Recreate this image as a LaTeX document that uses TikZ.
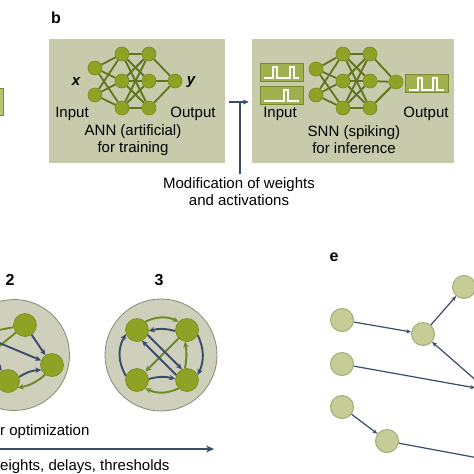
\documentclass[tikz,border=0pt]{standalone}
\usepackage{fontspec}
\setmainfont{Liberation Sans}
\usetikzlibrary{arrows.meta}
\pgfdeclarelayer{bg}\pgfdeclarelayer{mid}\pgfsetlayers{bg,mid,main}
\definecolor{boxfill}{RGB}{200,202,172}
\definecolor{nodegreen}{RGB}{142,162,38}
\definecolor{nodeborder}{RGB}{118,138,28}
\definecolor{edgegreen}{RGB}{95,118,30}
\definecolor{circfill}{RGB}{206,208,188}
\definecolor{circborder}{RGB}{135,138,115}
\definecolor{arrblue}{RGB}{58,76,108}
\definecolor{arrgreen}{RGB}{108,138,35}
\definecolor{enodefill}{RGB}{198,204,150}
\definecolor{enodeborder}{RGB}{165,172,118}
\definecolor{spikefill}{RGB}{160,176,78}
\definecolor{spikeborder}{RGB}{120,138,45}
\definecolor{leftbox}{RGB}{185,196,110}
\begin{document}
\begin{tikzpicture}[x=1pt,y=-1pt,
  font=\fontsize{15}{17}\selectfont,
  panel/.style={rectangle,fill=boxfill,draw=none,minimum width=#1,minimum height=124,inner sep=0},
  annnode/.style={circle,fill=nodegreen,draw=nodeborder,line width=0.6,minimum size=14,inner sep=0},
  annedge/.style={draw=edgegreen,line width=1.8},
  spikebox/.style={rectangle,fill=spikefill,draw=spikeborder,line width=0.8,minimum width=43,minimum height=18,inner sep=0},
  pulse/.style={draw=white,line width=1.1},
  txt/.style={inner sep=0,font=\fontsize{15}{17}\selectfont},
  lbl/.style={inner sep=0,font=\fontsize{16}{18}\selectfont\bfseries},
  barrow/.style={draw=arrblue,line width=1.5,-{Stealth[length=6,width=5]}},
  bigcirc/.style={circle,fill=circfill,draw=circborder,line width=0.8,minimum size=#1,inner sep=0},
  dnode/.style={circle,fill=nodegreen,draw=nodeborder,line width=0.6,minimum size=23,inner sep=0},
  da/.style={line width=1.9,-{Stealth[length=6,width=5.5]}},
  blu/.style={draw=arrblue},
  grn/.style={draw=arrgreen},
  enode/.style={circle,fill=enodefill,draw=enodeborder,line width=1,minimum size=23,inner sep=0},
  earrow/.style={draw=arrblue,line width=1.2,-{Stealth[length=5,width=4]}}]
\useasboundingbox (0,0) rectangle (474,474);
\begin{pgfonlayer}{bg}
\fill[white] (0,0) rectangle (474,474);
\end{pgfonlayer}

% ---------- left fragment ----------
\fill[leftbox,draw=spikeborder,line width=0.6] (-6,88) rectangle (3,115);

% ---------- panel b ----------
\node[lbl] (lb) at (56,18) {b};
\begin{pgfonlayer}{bg}
\node[panel=176] (annbox) at (137,101) {};
\node[panel=202] (snnbox) at (353,101) {};
\end{pgfonlayer}

% ANN
\node[annnode] (I1) at (95,68) {};
\node[annnode] (I2) at (95,95) {};
\node[annnode] (Ha) at (122,54) {};
\node[annnode] (Hb) at (122,81) {};
\node[annnode] (Hc) at (122,108) {};
\node[annnode] (Ka) at (149,54) {};
\node[annnode] (Kb) at (149,81) {};
\node[annnode] (Kc) at (149,108) {};
\node[annnode] (O) at (175,81) {};
\begin{pgfonlayer}{mid}
\foreach \a in {I1,I2} \foreach \b in {Ha,Hb,Hc} \draw[annedge] (\a) -- (\b);
\foreach \a in {Ha,Hb,Hc} \foreach \b in {Ka,Kb,Kc} \draw[annedge] (\a) -- (\b);
\foreach \a in {Ka,Kb,Kc} \draw[annedge] (\a) -- (O);
\end{pgfonlayer}
\node[txt,font=\fontsize{15}{17}\selectfont\bfseries\itshape] (xl) at (76,82) {x};
\node[txt,font=\fontsize{15}{17}\selectfont\bfseries\itshape] (yl) at (191,82) {y};
\node[txt] (in1) at (72,114) {Input};
\node[txt] (out1) at (193,114) {Output};
\node[txt,align=center] (annt) at (133,140) {ANN (artificial)\\for training};

% SNN
\node[annnode] (J1) at (316,69) {};
\node[annnode] (J2) at (316,95) {};
\node[annnode] (Pa) at (343,54) {};
\node[annnode] (Pb) at (343,81) {};
\node[annnode] (Pc) at (343,108) {};
\node[annnode] (Qa) at (370,54) {};
\node[annnode] (Qb) at (370,81) {};
\node[annnode] (Qc) at (370,108) {};
\node[annnode] (P) at (396,82) {};
\begin{pgfonlayer}{mid}
\foreach \a in {J1,J2} \foreach \b in {Pa,Pb,Pc} \draw[annedge] (\a) -- (\b);
\foreach \a in {Pa,Pb,Pc} \foreach \b in {Qa,Qb,Qc} \draw[annedge] (\a) -- (\b);
\foreach \a in {Qa,Qb,Qc} \draw[annedge] (\a) -- (P);
\end{pgfonlayer}
\node[spikebox] (S1) at (281.5,72) {};
\node[spikebox] (S2) at (281.5,95.5) {};
\node[spikebox] (S3) at (426.5,83.5) {};
\draw[pulse] (264,78) -- (273,78) -- (273,67) -- (277,67) -- (277,78) -- (290,78) -- (290,67) -- (294,67) -- (294,78) -- (299,78);
\draw[pulse] (264,101) -- (284,101) -- (284,90) -- (288,90) -- (288,101) -- (299,101);
\draw[pulse] (409,90) -- (418,90) -- (418,78) -- (422,78) -- (422,90) -- (433,90) -- (433,78) -- (437,78) -- (437,90) -- (444,90);
\node[txt] (in2) at (280,114) {Input};
\node[txt] (out2) at (426,114) {Output};
\node[txt,align=center] (snnt) at (354,140) {SNN (spiking)\\for inference};

% connector
\node[txt,align=center] (modt) at (239,191.5) {Modification of weights\\and activations};
\coordinate (junc) at (240,102);
\draw[barrow,shorten <=4,shorten >=3] (annbox.east |- junc) -- (snnbox.west |- junc);
\draw[draw=arrblue,line width=1.5] (modt.north -| junc) ++(0,-3) -- (junc);

% ---------- panel d ----------
\node[lbl] (l2) at (10,280) {2};
\node[lbl] (l3) at (159,280) {3};
\begin{pgfonlayer}{bg}
\node[bigcirc=111] (C2) at (14,355) {};
\node[bigcirc=112] (C3) at (161,355) {};
\end{pgfonlayer}

% circle 2
\node[dnode] (A) at (25,325) {};
\node[dnode] (B) at (52,365) {};
\node[dnode] (C) at (8,381) {};
\node[dnode] (D) at (-22,334) {};
\node[dnode] (E) at (-26,367) {};
\begin{pgfonlayer}{mid}
\draw[da,grn] (A) -- (D);
\draw[da,grn] (A) -- (E);
\draw[da,blu] (D) -- (B);
\draw[da,blu] (D) -- (C);
\draw[da,blu] (A) -- (B);
\draw[da,blu] (C.20) to[bend left=15] (B.205);
\draw[da,grn] (B.235) to[bend left=15] (C.-35);
\end{pgfonlayer}

% circle 3
\node[dnode] (TL) at (137,330) {};
\node[dnode] (TR) at (187,330) {};
\node[dnode] (BL) at (137,380) {};
\node[dnode] (BR) at (187,380) {};
\begin{pgfonlayer}{mid}
\draw[da,grn] (TL.45) to[bend left=25] (TR.135);
\draw[da,blu] (TR.185) to[bend right=15] (TL.-5);
\draw[da,blu] (BL.160) to[bend left=30] (TL.200);
\draw[da,grn] (BR.100) to[bend right=10] (TR.260);
\draw[da,blu] (TR.-25) to[bend left=25] (BR.25);
\draw[da,blu] (BL.5) to[bend left=15] (BR.175);
\draw[da,grn] (BR.225) to[bend left=25] (BL.-45);
\draw[da,grn] (TR.225) -- (BL.45);
\draw[da,blu] (TL.-25) -- (BR.115);
\draw[da,blu] (BR.155) -- (TL.-65);
\end{pgfonlayer}

\node[txt,anchor=base west] (opt) at (0,435) {r optimization};
\coordinate (ds) at (-5,449);
\coordinate (de) at (214,449);
\draw[draw=arrblue,line width=2.4,-{Stealth[length=8,width=7]}] (ds) -- (de);
\node[txt,anchor=base west] (wdt) at (0,470) {eights, delays, thresholds};

% ---------- panel e ----------
\node[lbl] (le) at (334,257) {e};
\node[enode] (E1) at (342,320) {};
\node[enode] (E2) at (342,364) {};
\node[enode] (E3) at (342,407) {};
\node[enode] (E4) at (423,334) {};
\node[enode] (E5) at (464,287) {};
\node[enode] (E6) at (387,441) {};
\node[enode] (X1) at (487,390) {};
\node[enode] (X2) at (500,462) {};
\draw[earrow] (E1) -- (E4);
\draw[earrow] (E4) -- (E5);
\draw[earrow] (X1) -- (E4);
\draw[earrow] (E2) -- (X1);
\draw[earrow] (E3) -- (E6);
\draw[earrow] (E6) -- (X2);
\end{tikzpicture}
\end{document}
